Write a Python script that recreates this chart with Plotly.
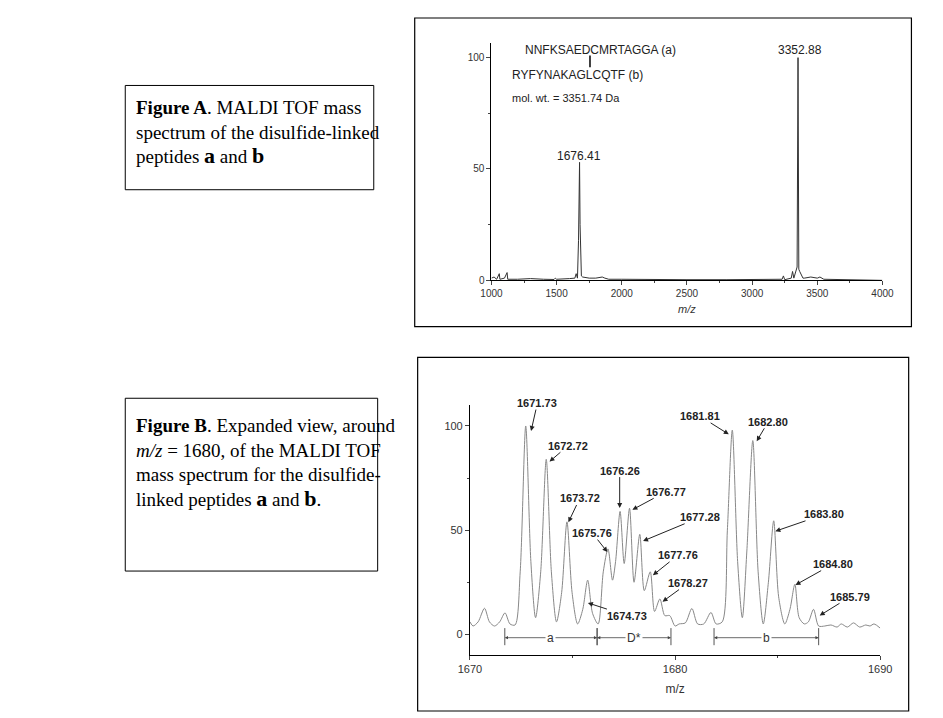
import plotly.graph_objects as go

# ---------- Data: overview spectrum (Figure A) ----------
a_mz = [1000,1020,1040,1060,1065,1100,1120,1125,1200,1300,1400,1480,1490,1500,1600,1640,1650,1660,1668,1672,1676,1680,1684,1690,1700,1750,1800,1850,1870,1900,2000,2200,2500,2800,3000,3200,3230,3240,3250,3300,3310,3320,3335,3345,3352,3358,3365,3375,3390,3400,3450,3500,3520,3550,3700,4000]
a_int = [1,1.5,0.5,3,0.5,1,3.5,0.5,0.5,0.8,0.5,0.4,1,0.5,0.8,1,3,1,18,33,53,25,8,2,1.5,1,1,1.5,1,0.5,0.5,0.3,0.3,0.3,0.3,0.3,0.5,2,0.3,1,4,1,4,6,100,5,4,3,1,1,1.5,1,1.5,0.5,0.3,0]

# ---------- Data: expanded spectrum (Figure B) ----------
b_mz = [1670.0,1670.15,1670.4,1670.71,1670.95,1671.2,1671.45,1671.71,1671.95,1672.2,1672.45,1672.72,1672.97,1673.2,1673.45,1673.72,1673.97,1674.22,1674.47,1674.73,1674.98,1675.25,1675.5,1675.74,1675.98,1676.25,1676.5,1676.73,1676.95,1677.1,1677.32,1677.52,1677.78,1678.0,1678.28,1678.5,1678.79,1679.0,1679.26,1679.5,1679.74,1680.0,1680.2,1680.5,1680.82,1681.1,1681.4,1681.75,1682.0,1682.3,1682.55,1682.79,1683.05,1683.28,1683.5,1683.79,1684.05,1684.3,1684.55,1684.81,1685.05,1685.35,1685.6,1685.84,1686.05,1686.3,1686.5,1686.75,1687.0,1687.3,1687.6,1687.9,1688.1,1688.4,1688.7,1689.0,1689.3,1689.5,1689.7,1690.0]
b_int = [6,4,6,12.5,6,4,6,10.3,5,4.5,30,100,35,8,30,84,30,6,20,54,20,5,12,26,10,5,30,41,26,35,59,34,60.5,25,48,21,30,11,17,9,9,4,5,5.5,12.4,5,5,10.5,5,6,50,98,35,8,40,93,30,5,25,54.5,18,5,12,24,8,5,6,12,4,4,4.5,3.5,5,3.5,5.5,3.5,4.5,4,5,3]

# peak labels: text, arrow tip (x,y), text position (x,y)
lbl_text = ["1671.73","1672.72","1673.72","1676.26","1676.77","1675.76","1677.28","1677.76","1678.27","1674.73","1681.81","1682.80","1683.80","1684.80","1685.79"]
lbl_tip_x = [1672.98,1673.88,1674.80,1677.30,1677.92,1676.70,1678.44,1678.92,1679.39,1675.75,1682.62,1683.98,1684.89,1685.87,1687.05]
lbl_tip_y = [97.6,82.9,53.8,60.6,59.8,39.5,44.8,28.4,15.7,15.1,96,92.7,49.5,23.7,9]
lbl_txt_x = [1673.29,1674.78,1675.35,1677.30,1679.55,1675.97,1681.23,1680.13,1680.63,1677.65,1681.23,1684.54,1687.28,1687.69,1688.53]
lbl_txt_y = [111,90.5,65.2,78.6,68.4,48.6,56.2,37.9,24.6,9,104.6,102,57.6,33.7,18]

# ranges for isotope clusters
rng_names = ["a", "D*", "b"]
rng_start = [1671.7, 1676.2, 1681.9]
rng_end = [1676.2, 1679.8, 1687.0]

fig = go.Figure()
fig.add_trace(go.Scatter(x=a_mz, y=a_int, mode="lines", line=dict(color="#333", width=1),
                         xaxis="x", yaxis="y", showlegend=False))
fig.add_trace(go.Scatter(x=b_mz, y=b_int, mode="lines", line=dict(color="#888", width=1, shape="spline", smoothing=0.8),
                         xaxis="x2", yaxis="y2", showlegend=False))

def axcommon(sz):
    return dict(showline=True, linecolor="black", linewidth=1, ticks="outside", ticklen=4,
                showgrid=False, zeroline=False, tickfont=dict(family="Arial", size=sz, color="#333"))
fig.update_layout(
    width=943, height=718, margin=dict(l=0, r=0, t=0, b=0),
    paper_bgcolor="white", plot_bgcolor="white",
    xaxis=dict(domain=[0.513, 0.9385], range=[1000, 4000], tickvals=[1000,1500,2000,2500,3000,3500,4000],
               minor=dict(ticks="outside", ticklen=2, dtick=250, tick0=1000),
               title=dict(text="<i>m/z</i>", font=dict(family="Arial", size=11, color="#333"), standoff=6),
               anchor="y", **axcommon(10)),
    yaxis=dict(domain=[0.618, 0.951], range=[0, 106.6], tickvals=[0, 50, 100],
               minor=dict(ticks="outside", ticklen=2, dtick=25), anchor="x", **axcommon(10)),
    xaxis2=dict(domain=[0.4896, 0.936], range=[1670, 1690], tickvals=[1670, 1680, 1690],
                minor=dict(ticks="outside", ticklen=2, dtick=5, tick0=1670),
                title=dict(text="m/z", font=dict(family="Arial", size=12, color="#333"), standoff=10),
                anchor="y2", **axcommon(11)),
    yaxis2=dict(domain=[0.0923, 0.443], range=[-10, 110], tickvals=[0, 50, 100],
                minor=dict(ticks="outside", ticklen=2, dtick=25, tick0=0), anchor="x2", **axcommon(11)),
)

shapes = []
shapes.append(dict(type="rect", xref="paper", yref="paper", x0=0.4295, x1=0.970, y0=0.553, y1=0.986, line=dict(color="black", width=1.2)))
shapes.append(dict(type="rect", xref="paper", yref="paper", x0=0.4327, x1=0.967, y0=0.014, y1=0.510, line=dict(color="black", width=1.2)))
shapes.append(dict(type="rect", xref="paper", yref="paper", x0=108/943, x1=363/943, y0=1-183/718, y1=1-78/718, line=dict(color="black", width=1)))
shapes.append(dict(type="rect", xref="paper", yref="paper", x0=108/943, x1=367/943, y0=1-567/718, y1=1-393/718, line=dict(color="black", width=1)))
shapes.append(dict(type="line", xref="x", yref="y", x0=1756, x1=1756, y0=101, y1=95.7, line=dict(color="black", width=1.5)))
for s, e in zip(rng_start, rng_end):
    for xv in (s, e):
        shapes.append(dict(type="line", xref="x2", yref="y2", x0=xv, x1=xv, y0=3, y1=-5.2, line=dict(color="#555", width=1)))
fig.update_layout(shapes=shapes)

ann = []
serif = "Liberation Serif, Times New Roman, serif"
ann.append(dict(xref="paper", yref="paper", x=117/943, y=1-88/718, xanchor="left", yanchor="top", align="left",
                showarrow=False, font=dict(family=serif, size=19, color="black"),
                text="<b>Figure A</b>. MALDI TOF mass<br>spectrum of the disulfide-linked<br>peptides <b><span style='font-size:22px'>a</span></b> and <b><span style='font-size:22px'>b</span></b>"))
ann.append(dict(xref="paper", yref="paper", x=117/943, y=1-408/718, xanchor="left", yanchor="top", align="left",
                showarrow=False, font=dict(family=serif, size=19, color="black"),
                text="<b>Figure B</b>. Expanded view, around<br><i>m/z</i> = 1680, of the MALDI TOF<br>mass spectrum for the disulfide-<br>linked peptides <b><span style='font-size:22px'>a</span></b> and <b><span style='font-size:22px'>b</span></b>."))
fA = dict(family="Arial", size=12, color="#222")
ann.append(dict(xref="x", yref="y", x=1244, y=103.4, xanchor="left", text="NNFKSAEDCMRTAGGA (a)", showarrow=False, font=fA))
ann.append(dict(xref="x", yref="y", x=1140, y=92.2, xanchor="left", text="RYFYNAKAGLCQTF (b)", showarrow=False, font=fA))
ann.append(dict(xref="x", yref="y", x=1140, y=82, xanchor="left", text="mol. wt. = 3351.74 Da", showarrow=False, font=dict(family="Arial", size=11, color="#222")))
ann.append(dict(xref="x", yref="y", x=1673, y=56, text="1676.41", showarrow=False, font=fA))
ann.append(dict(xref="x", yref="y", x=3371, y=103.4, text="3352.88", showarrow=False, font=fA))

for t, tx, ty, px, py in zip(lbl_text, lbl_tip_x, lbl_tip_y, lbl_txt_x, lbl_txt_y):
    ann.append(dict(xref="x2", yref="y2", x=tx, y=ty, axref="x2", ayref="y2", ax=px, ay=py,
                    text="<b>" + t + "</b>", showarrow=True, arrowhead=2, arrowsize=1, arrowwidth=1,
                    arrowcolor="#222", font=dict(family="Arial", size=11, color="#222"), borderpad=0))

for n, s, e in zip(rng_names, rng_start, rng_end):
    mid = (s + e) / 2
    for end in (s, e):
        ann.append(dict(xref="x2", yref="y2", x=end, y=-1.6, axref="x2", ayref="y2", ax=mid, ay=-1.6,
                        text="", showarrow=True, arrowhead=2, arrowsize=0.8, arrowwidth=0.8, arrowcolor="#444"))
    ann.append(dict(xref="x2", yref="y2", x=mid, y=-1.6, text=n, showarrow=False, bgcolor="white",
                    font=dict(family="Arial", size=12, color="#333")))
fig.update_layout(annotations=ann)

fig.write_html("out.html")
